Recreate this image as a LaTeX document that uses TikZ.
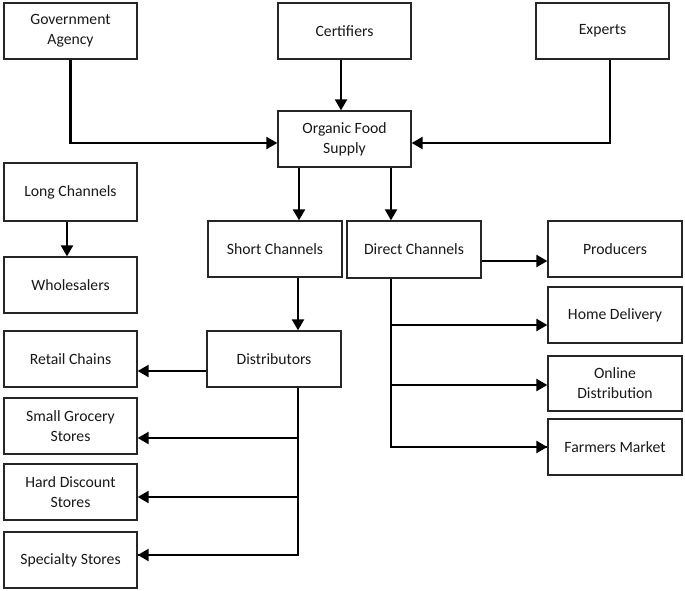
\documentclass[tikz,border=0pt]{standalone}
\usepackage{fontspec}
\setmainfont{Carlito}
\usetikzlibrary{arrows.meta}
\begin{document}
\begin{tikzpicture}[x=1pt,y=-1pt,
  box/.style={draw=black!85,line width=1.3pt,fill=white,minimum width=133pt,minimum height=56pt,
    inner sep=2pt,align=center,text=black!90,font=\fontsize{15.7}{20}\selectfont},
  arr/.style={line width=2.2pt,draw=black,-{Triangle[length=11pt,width=12pt]}},
  ln/.style={line width=2.2pt,draw=black}]
\useasboundingbox (0,0) rectangle (685,591);
\node[box] (gov) at (70.5,31) {Government\\Agency};
\node[box] (cert) at (344.5,31) {Certifiers};
\node[box] (exp) at (602.5,31) {Experts};
\node[box] (org) at (344.5,139) {Organic Food\\Supply};
\node[box,minimum height=58pt] (long) at (70.5,192) {Long Channels};
\node[box] (whole) at (70.5,285) {Wholesalers};
\node[box,minimum width=134pt] (short) at (275,249) {Short Channels};
\node[box,minimum width=134pt,minimum height=57pt] (direct) at (414,249.5) {Direct Channels};
\node[box,minimum width=134pt] (prod) at (615,249) {Producers};
\node[box,minimum width=134pt] (home) at (615,315) {Home Delivery};
\node[box,minimum width=134pt,minimum height=55pt] (online) at (615,383.5) {Online\\Distribution};
\node[box,minimum width=134pt] (farm) at (615,447) {Farmers Market};
\node[box,minimum width=134pt] (dist) at (274,359) {Distributors};
\node[box] (retail) at (70.5,359) {Retail Chains};
\node[box] (small) at (70.5,426) {Small Grocery\\Stores};
\node[box] (hard) at (70.5,492) {Hard Discount\\Stores};
\node[box] (spec) at (70.5,560) {Specialty Stores};
% top inputs
\draw[arr] (gov.south) |- ([yshift=-4pt]org.west);
\draw[arr] ([xshift=-3.5pt]cert.south) -- ([xshift=-3.5pt]org.north);
\draw[arr] ([xshift=7.5pt]exp.south) |- ([yshift=-4pt]org.east);
% organic to channels
\draw[arr] ([xshift=-45.5pt]org.south) -- ([xshift=24pt]short.north);
\draw[arr] ([xshift=46.5pt]org.south) -- ([xshift=-23pt]direct.north);
\draw[arr] ([xshift=-3.5pt]long.south) -- ([xshift=-3.5pt]whole.north);
\draw[arr] ([xshift=23pt]short.south) -- ([xshift=24pt]dist.north);
% direct channels
\draw[arr] ([yshift=-11.5pt]direct.east) -- ([yshift=-12pt]prod.west);
\coordinate (dtop) at ([xshift=-23pt]direct.south);
\draw[ln] (dtop) |- ([yshift=0pt]farm.west);
\draw[arr] (dtop) |- ([yshift=-10pt]home.west);
\draw[arr] (dtop) |- ([yshift=-1.5pt]online.west);
\draw[arr] (dtop) |- (farm.west);
% distributors
\draw[arr] ([yshift=-12pt]dist.west) -- ([yshift=-12pt]retail.east);
\coordinate (stop) at ([xshift=24pt]dist.south);
\draw[ln] (stop) |- ([yshift=5pt]spec.east);
\draw[arr] (stop) |- ([yshift=-12pt]small.east);
\draw[arr] (stop) |- ([yshift=-5pt]hard.east);
\draw[arr] (stop) |- ([yshift=5pt]spec.east);
\end{tikzpicture}
\end{document}
